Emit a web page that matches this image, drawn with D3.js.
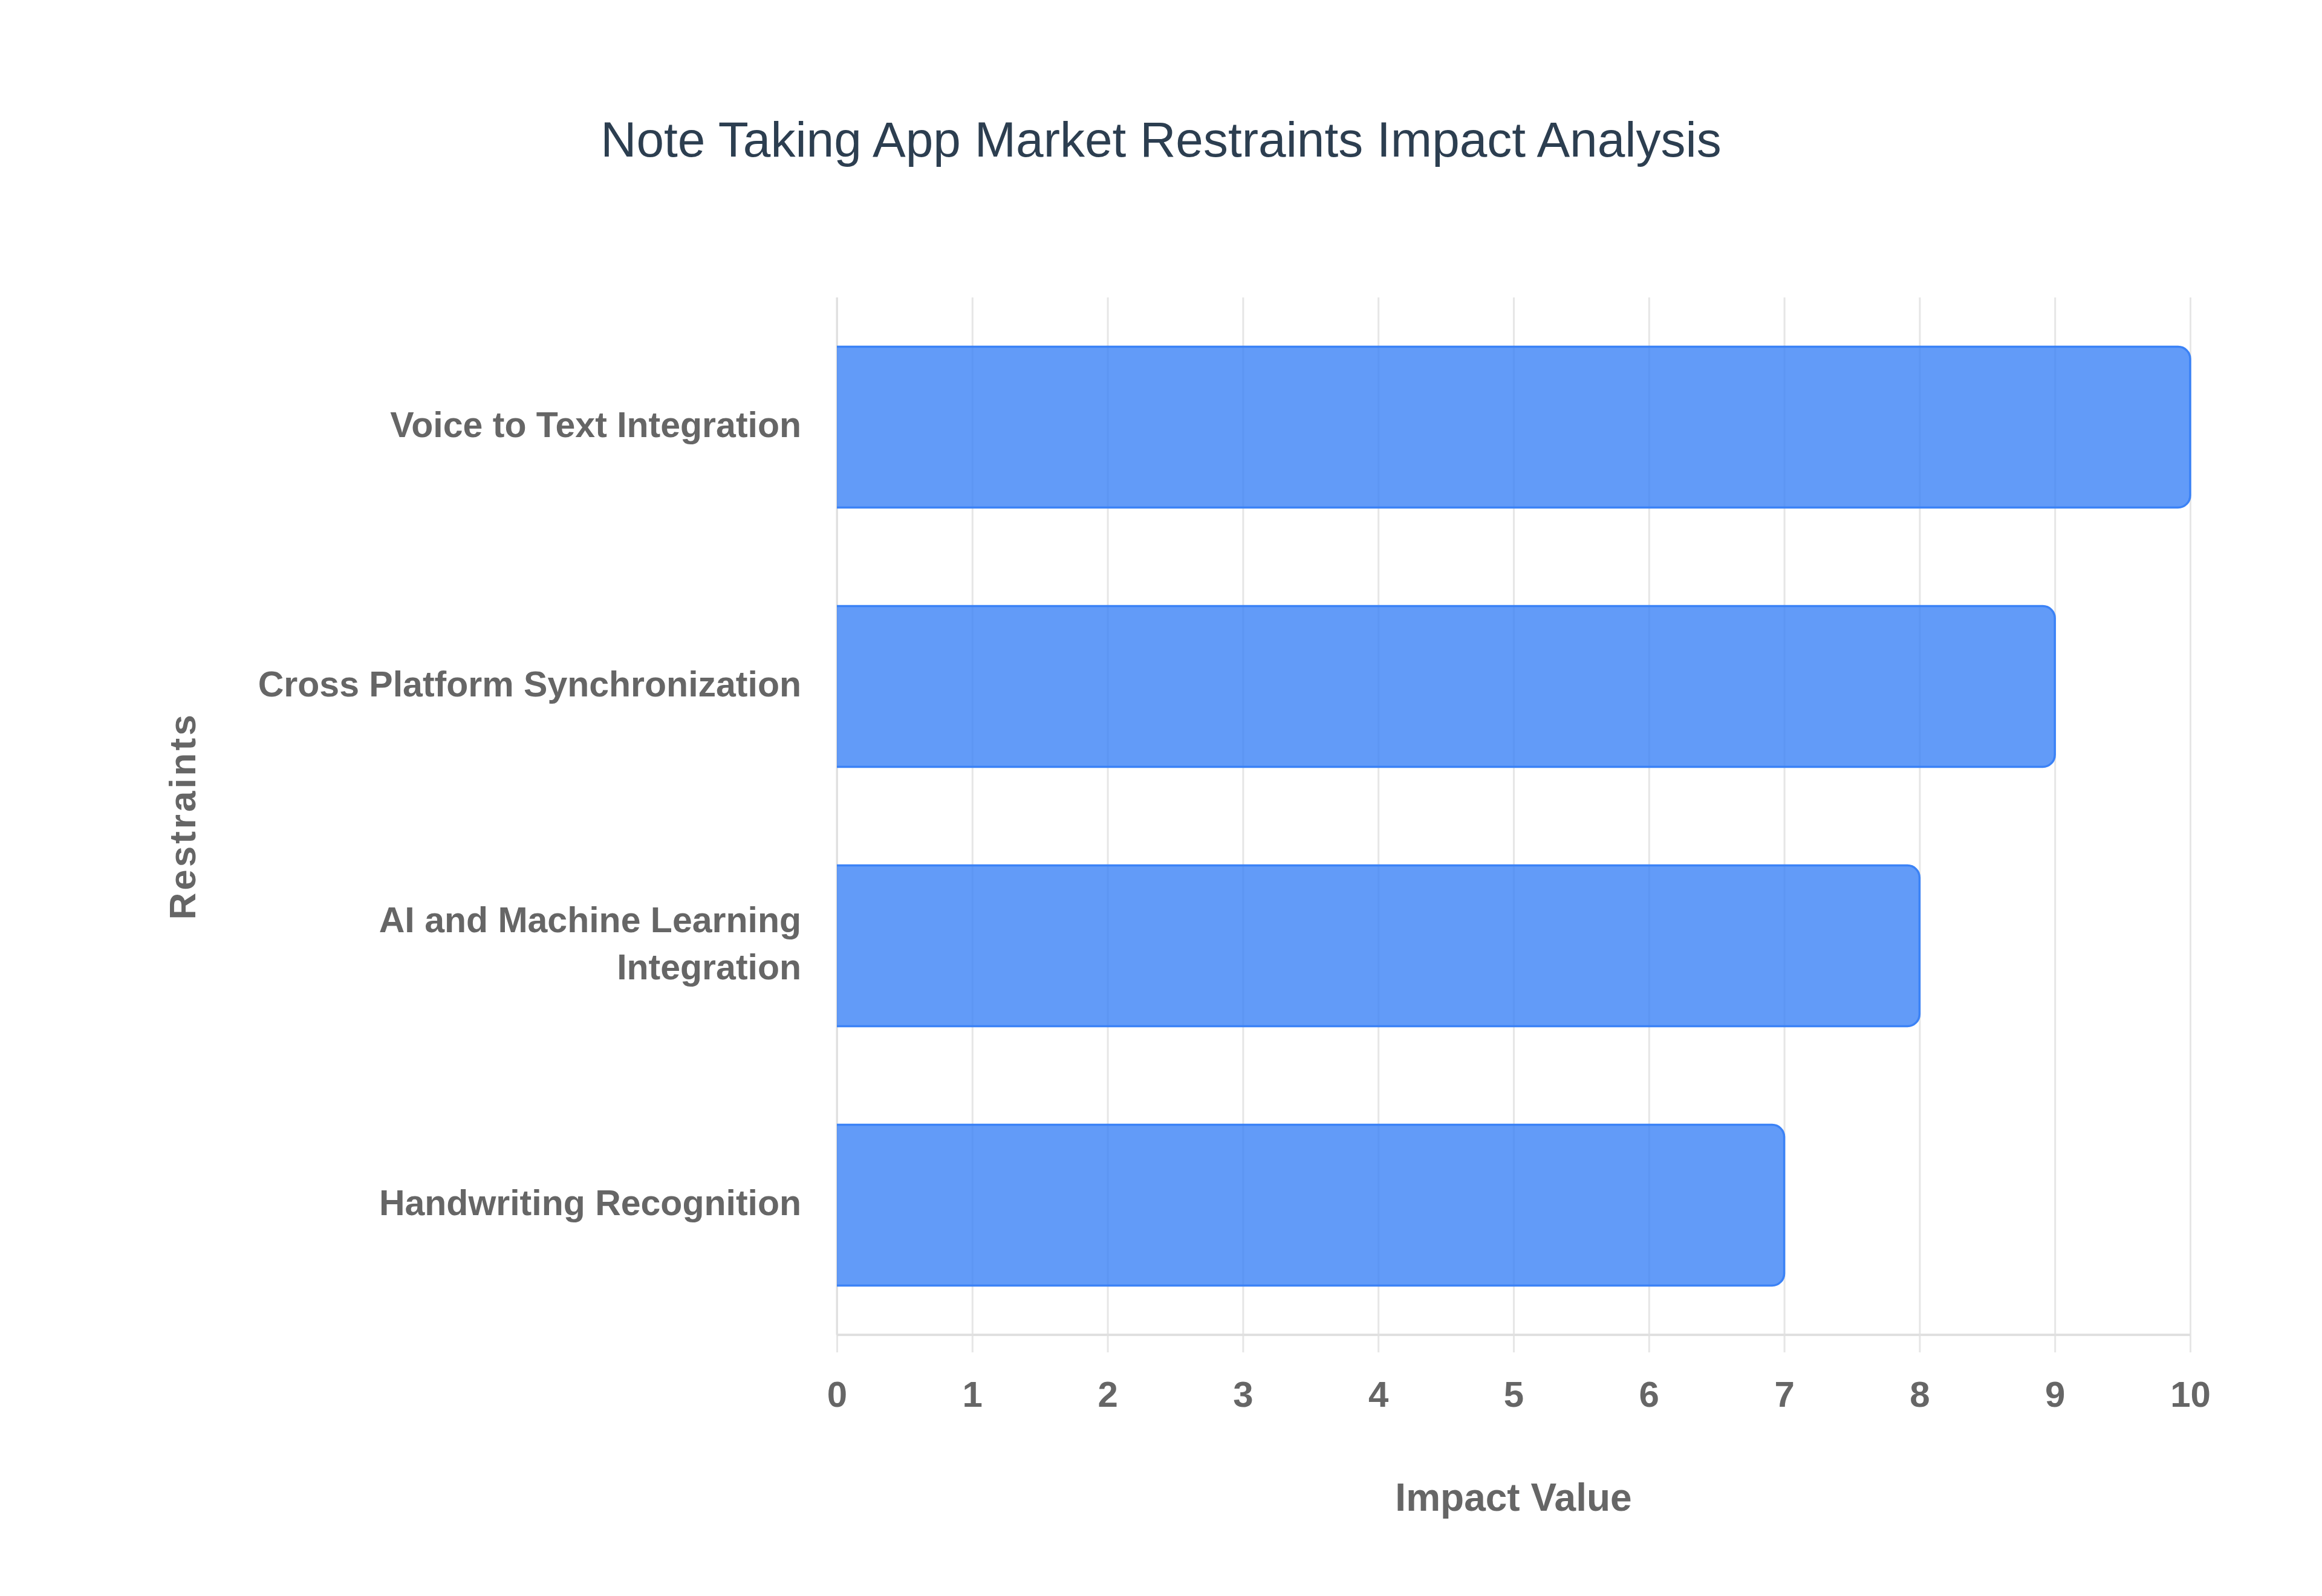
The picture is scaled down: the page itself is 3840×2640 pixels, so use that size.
<!DOCTYPE html>
<html>
<head>
<meta charset="utf-8">
<script src="https://cdn.jsdelivr.net/npm/d3@7"></script>
<style>
  html, body { margin: 0; padding: 0; background: #ffffff; }
  svg { display: block; font-family: "Liberation Sans", Arial, Helvetica, sans-serif; }
</style>
</head>
<body>
<div id="chart"></div>
<script>

// chart data
var restraints = [
    "Voice to Text Integration",
    "Cross Platform Synchronization",
    "AI and Machine Learning Integration",
    "Handwriting Recognition"
]

var impactValues = [10, 9, 8, 7]

var xTicks = [0, 1, 2, 3, 4, 5, 6, 7, 8, 9, 10]

var chartTitle = "Note Taking App Market Restraints Impact Analysis"
var xTitle = "Impact Value"
var yTitle = "Restraints"

var width = 3840
var height = 2640

var margin = {top: 492, right: 218, bottom: 432, left: 1384}

var plotW = width - margin.left - margin.right
var plotH = height - margin.top - margin.bottom

var svg = d3.select("#chart").append("svg")
    .attr("width", width)
    .attr("height", height)

svg.append("rect")
    .attr("width", width)
    .attr("height", height)
    .attr("fill", "#ffffff")

// title
svg.append("text")
    .attr("x", width / 2)
    .attr("y", 259)
    .attr("text-anchor", "middle")
    .style("font-size", "82px")
    .style("fill", "#2c3e50")
    .text(chartTitle)

var g = svg.append("g")
    .attr("transform", "translate(" + margin.left + "," + margin.top + ")")

var x = d3.scaleLinear()
    .domain([0, 10])
    .range([0, plotW])

var y = d3.scaleBand()
    .domain(restraints)
    .range([0, plotH])
    .paddingInner(0.38)
    .paddingOuter(0.19)

var tickLen = 29

// vertical grid lines, running past the bottom edge as ticks
var xAxis = d3.axisBottom(x)
    .tickValues(xTicks)
    .tickFormat(d3.format("d"))
    .tickSize(-(plotH + tickLen))

var gx = g.append("g")
    .attr("transform", "translate(0," + (plotH + tickLen) + ")")
    .call(xAxis)

gx.select(".domain").remove()

gx.selectAll(".tick line")
    .attr("stroke", "#e6e6e6")
    .attr("stroke-width", 3)

gx.selectAll(".tick text")
    .attr("y", 47)
    .attr("dy", "0.71em")
    .style("font-size", "60px")
    .style("font-weight", "bold")
    .style("fill", "#666666")

// bottom border
g.append("line")
    .attr("x1", 0)
    .attr("x2", plotW)
    .attr("y1", plotH)
    .attr("y2", plotH)
    .attr("stroke", "#e0e0e0")
    .attr("stroke-width", 4)

// left border
g.append("line")
    .attr("x1", 0)
    .attr("x2", 0)
    .attr("y1", 0)
    .attr("y2", plotH)
    .attr("stroke", "#e0e0e0")
    .attr("stroke-width", 3)

// bars, right end rounded, left end square
var radius = 20

function barPath(d, i, closed) {
    var x0 = x(0)
    var x1 = x(impactValues[i])
    var y0 = y(d)
    var y1 = y0 + y.bandwidth()
    var r = Math.min(radius, (x1 - x0) / 2)
    var p = d3.path()
    p.moveTo(x0, y0)
    p.lineTo(x1 - r, y0)
    p.arcTo(x1, y0, x1, y0 + r, r)
    p.lineTo(x1, y1 - r)
    p.arcTo(x1, y1, x1 - r, y1, r)
    p.lineTo(x0, y1)
    if (closed) p.closePath()
    return p.toString()
}

var bars = g.append("g")

bars.selectAll("path.bar")
    .data(restraints)
    .enter()
    .append("path")
    .attr("class", "bar")
    .attr("d", function(d, i) { return barPath(d, i, true) })
    .style("fill", "rgba(59,130,246,0.8)")

bars.selectAll("path.edge")
    .data(restraints)
    .enter()
    .append("path")
    .attr("class", "edge")
    .attr("d", function(d, i) { return barPath(d, i, false) })
    .style("fill", "none")
    .style("stroke", "#3b82f6")
    .style("stroke-width", 3.5)

// category labels, long ones split over two lines
function splitLabel(label) {
    if (label.length <= 30) return [label]
    var words = label.split(" ")
    var lines = [""]
    words.forEach(function(w) {
        var last = lines[lines.length - 1]
        if (last.length && (last + " " + w).length > 24) {
            lines.push(w)
        } else {
            lines[lines.length - 1] = last.length ? last + " " + w : w
        }
    })
    return lines
}

var lineH = 78

g.append("g")
    .selectAll("text")
    .data(restraints)
    .enter()
    .append("text")
    .attr("text-anchor", "end")
    .style("font-size", "59px")
    .style("font-weight", "bold")
    .style("fill", "#666666")
    .each(function(d) {
        var lines = splitLabel(d)
        var cy = y(d) + y.bandwidth() / 2
        var first = cy - (lines.length - 1) * lineH / 2
        var t = d3.select(this)
        lines.forEach(function(line, k) {
            t.append("tspan")
                .attr("x", -59)
                .attr("y", first + k * lineH)
                .attr("dy", "0.28em")
                .text(line)
        })
    })

// axis titles
svg.append("text")
    .attr("x", margin.left + plotW / 2)
    .attr("y", 2478)
    .attr("dy", "0.33em")
    .attr("text-anchor", "middle")
    .style("font-size", "64px")
    .style("font-weight", "bold")
    .style("fill", "#666666")
    .text(xTitle)

svg.append("text")
    .attr("transform", "translate(301," + (margin.top + plotH / 2) + ") rotate(-90)")
    .attr("dy", "0.35em")
    .attr("text-anchor", "middle")
    .style("font-size", "62px")
    .style("font-weight", "bold")
    .style("letter-spacing", "4px")
    .style("fill", "#666666")
    .text(yTitle)

</script>
</body>
</html>
